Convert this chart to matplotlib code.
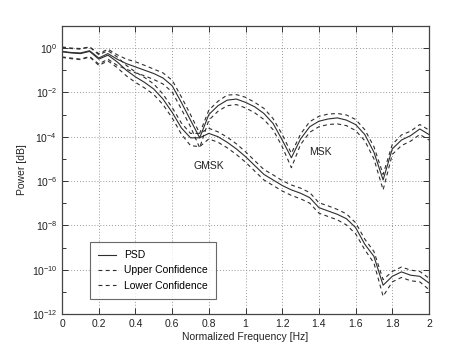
import numpy as np
import matplotlib
matplotlib.use("Agg")
import matplotlib.pyplot as plt
from matplotlib.ticker import FixedLocator, NullFormatter

plt.rcParams['font.family'] = ['Liberation Sans', 'DejaVu Sans']
plt.rcParams['mathtext.default'] = 'regular'

freq = np.linspace(0, 2, 41)

# log10 of power values
msk_psd = [-0.15,-0.20,-0.22,-0.12,-0.45,-0.25,-0.50,-0.70,-0.85,-1.00,-1.15,-1.35,-1.70,-2.45,-3.25,-4.05,-3.00,-2.60,-2.35,-2.30,-2.45,-2.65,-2.95,-3.40,-4.15,-4.95,-4.10,-3.55,-3.30,-3.20,-3.15,-3.25,-3.45,-3.90,-4.70,-5.95,-4.55,-4.15,-3.95,-3.65,-3.90]
msk_up = [0.05,0.0,-0.02,0.05,-0.25,-0.05,-0.3,-0.5,-0.62,-0.78,-0.95,-1.12,-1.45,-2.2,-3.0,-3.85,-2.8,-2.4,-2.12,-2.1,-2.22,-2.45,-2.72,-3.18,-3.9,-4.75,-3.88,-3.32,-3.08,-2.98,-2.95,-3.02,-3.22,-3.68,-4.45,-5.7,-4.35,-3.92,-3.75,-3.45,-3.7]
msk_lo = [-0.4,-0.45,-0.5,-0.38,-0.72,-0.5,-0.78,-0.95,-1.12,-1.25,-1.42,-1.62,-1.98,-2.75,-3.55,-4.5,-3.25,-2.85,-2.6,-2.55,-2.7,-2.92,-3.22,-3.68,-4.45,-5.4,-4.35,-3.8,-3.55,-3.45,-3.42,-3.5,-3.72,-4.18,-5.0,-6.4,-4.8,-4.4,-4.2,-3.9,-4.15]

gmsk_psd = [-0.17,-0.22,-0.25,-0.15,-0.50,-0.32,-0.62,-1.00,-1.30,-1.55,-1.85,-2.30,-2.90,-3.60,-4.05,-4.05,-3.85,-4.00,-4.25,-4.55,-4.90,-5.30,-5.70,-5.95,-6.20,-6.40,-6.55,-6.75,-7.20,-7.35,-7.50,-7.70,-8.10,-8.85,-9.40,-10.70,-10.30,-10.10,-10.25,-10.30,-10.60]
gmsk_up = [0.03,-0.02,-0.05,0.05,-0.3,-0.12,-0.4,-0.78,-1.08,-1.33,-1.62,-2.08,-2.68,-3.38,-3.85,-3.85,-3.62,-3.78,-4.02,-4.32,-4.68,-5.08,-5.48,-5.72,-5.98,-6.18,-6.32,-6.52,-6.98,-7.12,-7.28,-7.48,-7.88,-8.62,-9.18,-10.45,-10.08,-9.88,-10.02,-10.08,-10.38]
gmsk_lo = [-0.42,-0.48,-0.52,-0.4,-0.78,-0.58,-0.88,-1.25,-1.55,-1.8,-2.1,-2.55,-3.15,-3.88,-4.4,-4.45,-4.1,-4.25,-4.5,-4.8,-5.15,-5.55,-5.95,-6.2,-6.45,-6.65,-6.8,-7.0,-7.45,-7.6,-7.75,-7.98,-8.38,-9.1,-9.7,-11.2,-10.55,-10.35,-10.5,-10.55,-10.9]

labels = ["PSD", "Upper Confidence", "Lower Confidence"]
x_ticks = [0, 0.2, 0.4, 0.6, 0.8, 1, 1.2, 1.4, 1.6, 1.8, 2]

fig = plt.figure(figsize=(4.74, 3.55), dpi=100)
ax = fig.add_axes([0.131, 0.1155, 0.774, 0.8115])

lc = '#2e2e2e'
dash = (0, (3.5, 3))
for psd, up, lo, lab in [(msk_psd, msk_up, msk_lo, True), (gmsk_psd, gmsk_up, gmsk_lo, False)]:
    ax.plot(freq, 10 ** np.array(psd), color=lc, lw=0.8, label=labels[0] if lab else None)
    ax.plot(freq, 10 ** np.array(up), color=lc, lw=0.8, linestyle=dash, label=labels[1] if lab else None)
    ax.plot(freq, 10 ** np.array(lo), color=lc, lw=0.8, linestyle=dash, label=labels[2] if lab else None)

ax.set_yscale('log')
ax.set_xlim(0, 2)
ax.set_ylim(1e-12, 1e1)
ax.set_xticks(x_ticks)
ax.set_xticklabels([f"{t:g}" for t in x_ticks])
ax.yaxis.set_major_locator(FixedLocator([1e-12, 1e-10, 1e-8, 1e-6, 1e-4, 1e-2, 1e0]))
ax.yaxis.set_minor_locator(FixedLocator([1e-11, 1e-9, 1e-7, 1e-5, 1e-3, 1e-1, 1e1]))
ax.yaxis.set_minor_formatter(NullFormatter())
ax.tick_params(which='both', direction='in', top=True, right=True, labelsize=7.5, colors='#333333', labelcolor='#222222')
ax.tick_params(which='major', length=4, width=0.7)
ax.tick_params(which='minor', length=3, width=0.7)
ax.grid(True, which='major', linestyle=(0, (1, 2)), color='#999999', lw=0.7)
for s in ax.spines.values():
    s.set_color('#444444')
    s.set_linewidth(0.9)

ax.set_xlabel("Normalized Frequency [Hz]", fontsize=7.5, color='#222222', labelpad=2)
ax.set_ylabel("Power [dB]", fontsize=7.5, color='#222222', labelpad=3)

ax.text(0.80, 10 ** -5.32, "GMSK", fontsize=7.5, ha='center', va='center', color='#222222')
ax.text(1.41, 10 ** -4.71, "MSK", fontsize=7.5, ha='center', va='center', color='#222222')

leg = ax.legend(loc='lower left', bbox_to_anchor=(0.076, 0.052), fontsize=7.5, handlelength=1.7,
                frameon=True, fancybox=False, borderpad=0.8, labelspacing=0.5, borderaxespad=0)
leg.get_frame().set_edgecolor('#444444')
leg.get_frame().set_linewidth(0.8)

fig.savefig("out.png", dpi=100)
